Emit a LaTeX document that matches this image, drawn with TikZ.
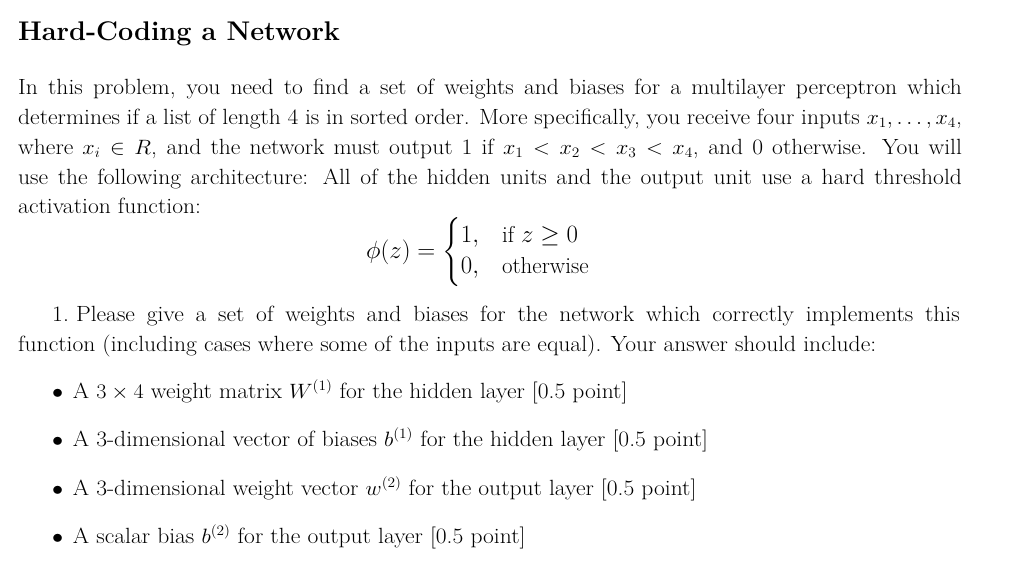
\documentclass[tikz,border=0pt]{standalone}
\usepackage{amsmath,amssymb}
\newcommand{\jl}[1]{\makebox[882pt][s]{#1}}
\begin{document}
\begin{tikzpicture}[x=1pt,y=-1pt,
  txt/.style={anchor=base west,inner sep=0pt,font=\fontsize{22}{24}\selectfont}]
\useasboundingbox (0,0) rectangle (1024,565);
\node[anchor=base west,inner sep=0pt,font=\fontsize{27}{30}\selectfont\bfseries] (title) at (18,40) {Hard-Coding a Network};
\node[txt] (p1) at (18,94) {\scalebox{1.07}[1]{\jl{In this problem, you need to find a set of weights and biases for a multilayer perceptron which}}};
\node[txt] (p2) at (18,124) {\scalebox{1.07}[1]{\jl{determines if a list of length 4 is in sorted order. More specifically, you receive four inputs $x_1,\ldots,x_4$,}}};
\node[txt] (p3) at (18,154) {\scalebox{1.07}[1]{\jl{where $x_i\in R$, and the network must output 1 if $x_1<x_2<x_3<x_4$, and 0 otherwise. You will}}};
\node[txt] (p4) at (18,184) {\scalebox{1.07}[1]{\jl{use the following architecture: All of the hidden units and the output unit use a hard threshold}}};
\node[txt] (p5) at (18,213) {\scalebox{1.07}[1]{activation function:}};
\node[txt,anchor=center,font=\fontsize{23}{26}\selectfont] (eq) at (478,252) {$\phi(z)=\begin{cases}1, & \text{if } z\ge 0\\ 0, & \text{otherwise}\end{cases}$};
\node[txt] (q1) at (52,321) {\scalebox{1.07}[1]{1.\ \makebox[826pt][s]{Please give a set of weights and biases for the network which correctly implements this}}};
\node[txt] (q2) at (18,351) {\scalebox{1.07}[1]{function (including cases where some of the inputs are equal). Your answer should include:}};
\node[txt] (b1) at (52,398) {\scalebox{1.07}[1]{$\bullet$\hspace{9pt}A $3\times4$ weight matrix $W^{(1)}$ for the hidden layer [0.5 point]}};
\node[txt] (b2) at (52,446) {\scalebox{1.07}[1]{$\bullet$\hspace{9pt}A 3-dimensional vector of biases $b^{(1)}$ for the hidden layer [0.5 point]}};
\node[txt] (b3) at (52,495) {\scalebox{1.07}[1]{$\bullet$\hspace{9pt}A 3-dimensional weight vector $w^{(2)}$ for the output layer [0.5 point]}};
\node[txt] (b4) at (52,543) {\scalebox{1.07}[1]{$\bullet$\hspace{9pt}A scalar bias $b^{(2)}$ for the output layer [0.5 point]}};
\end{tikzpicture}
\end{document}
